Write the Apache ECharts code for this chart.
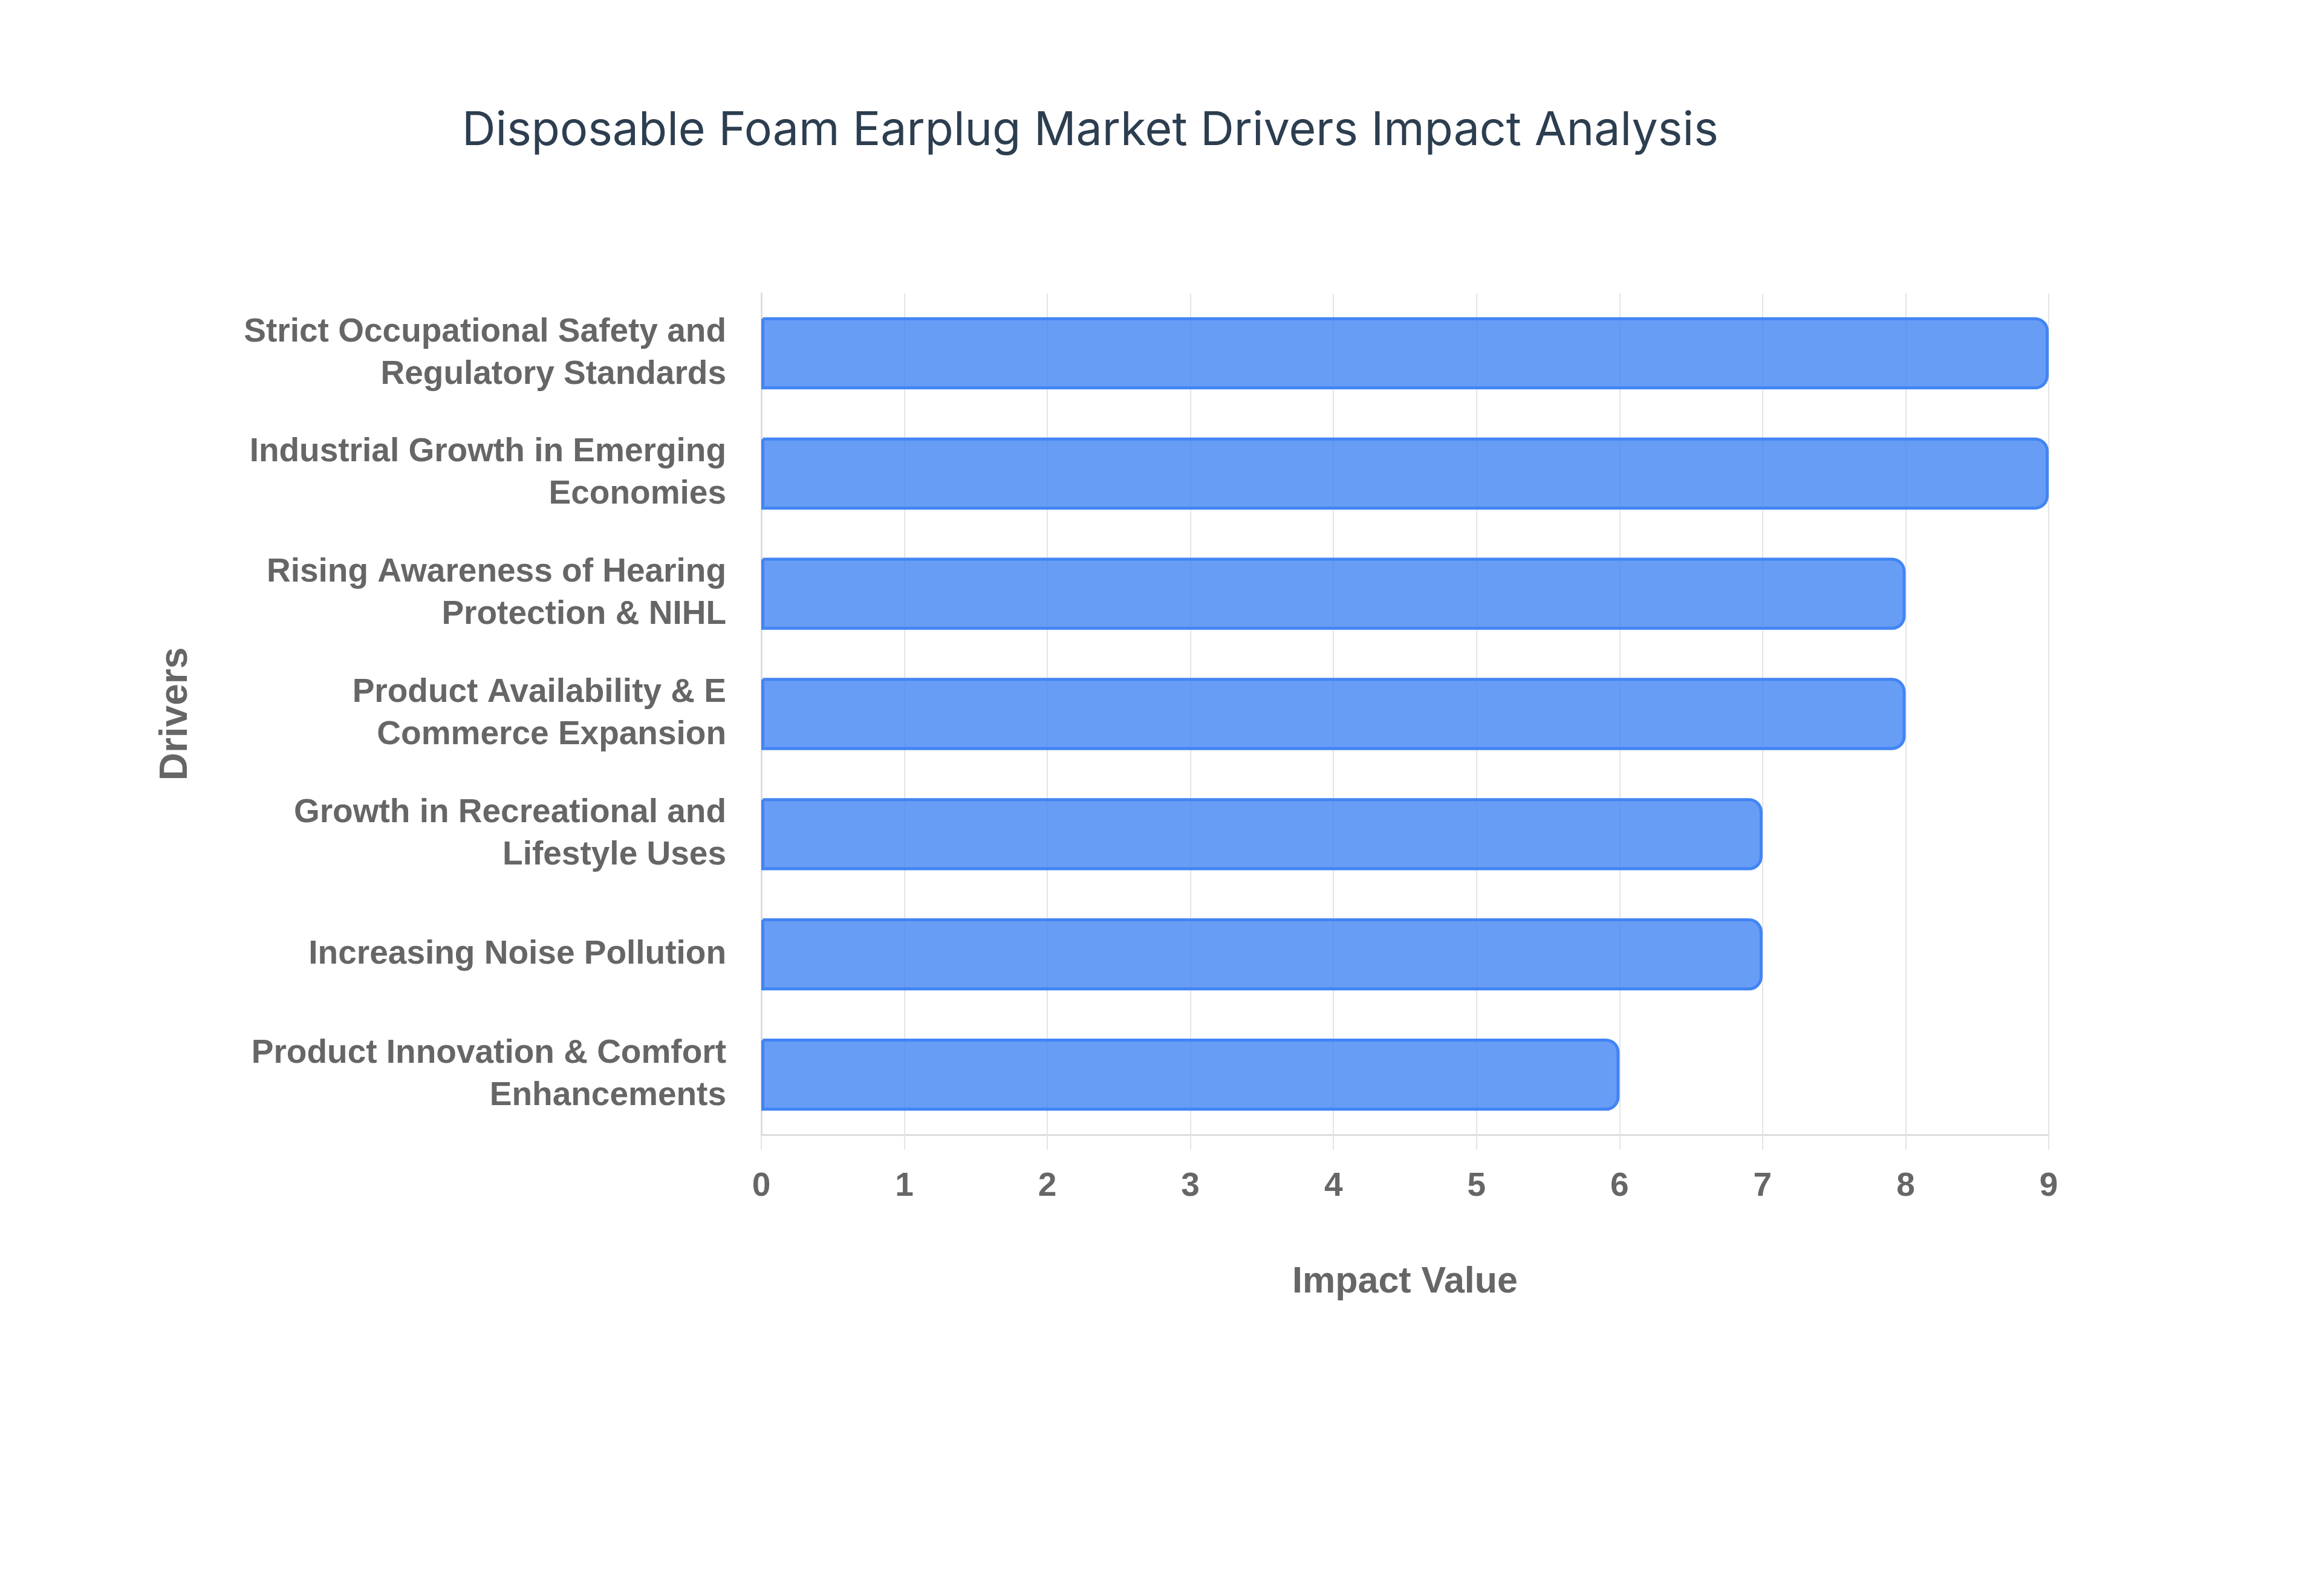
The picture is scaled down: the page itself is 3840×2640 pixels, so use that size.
<!DOCTYPE html>
<html>
<head>
<meta charset="utf-8">
<script src="https://cdn.jsdelivr.net/npm/echarts@6/dist/echarts.min.js"></script>
<style>
html,body{margin:0;padding:0;background:#fff;}
#chart{width:3840px;height:2640px;}
</style>
</head>
<body>
<div id="chart"></div>
<script>
const titleText = 'Disposable Foam Earplug Market Drivers Impact Analysis';
const categories = [
  'Strict Occupational Safety and\nRegulatory Standards',
  'Industrial Growth in Emerging\nEconomies',
  'Rising Awareness of Hearing\nProtection & NIHL',
  'Product Availability & E\nCommerce Expansion',
  'Growth in Recreational and\nLifestyle Uses',
  'Increasing Noise Pollution',
  'Product Innovation & Comfort\nEnhancements'
];
const impactValues = [9, 9, 8, 8, 7, 7, 6];
const xAxisName = 'Impact Value';
const yAxisName = 'Drivers';

const chart = echarts.init(document.getElementById('chart'), null, {renderer: 'canvas'});
const labelFont = '"Liberation Sans", Arial, sans-serif';
chart.setOption({
  backgroundColor: '#ffffff',
  animation: false,
  title: {
    text: titleText,
    left: 764,
    top: 178,
    padding: 0,
    textStyle: {
      fontFamily: 'Inter, "Open Sans", sans-serif',
      fontSize: 77,
      fontWeight: 'normal',
      color: '#2c3e50'
    }
  },
  grid: {
    left: 1259,
    right: 452,
    top: 485,
    bottom: 763,
    containLabel: false
  },
  xAxis: {
    type: 'value',
    min: 0,
    max: 9,
    interval: 1,
    name: xAxisName,
    nameLocation: 'middle',
    nameGap: 214,
    nameTextStyle: {
      fontFamily: labelFont,
      fontSize: 61,
      fontWeight: 'bold',
      color: '#666666'
    },
    axisLine: {show: true, lineStyle: {color: '#dddddd', width: 3}},
    axisTick: {show: true, length: 25, lineStyle: {color: '#e5e5e5', width: 2}},
    axisLabel: {
      margin: 58,
      fontFamily: labelFont,
      fontSize: 55,
      fontWeight: 'bold',
      color: '#666666'
    },
    splitLine: {show: true, lineStyle: {color: '#e5e5e5', width: 2}}
  },
  yAxis: {
    type: 'category',
    data: categories,
    inverse: true,
    name: yAxisName,
    nameLocation: 'middle',
    nameRotate: 90,
    nameGap: 936,
    nameTextStyle: {
      fontFamily: labelFont,
      fontSize: 64,
      fontWeight: 'bold',
      color: '#666666'
    },
    axisLine: {show: true, lineStyle: {color: '#dddddd', width: 3}},
    axisTick: {show: false},
    axisLabel: {
      margin: 58,
      fontFamily: labelFont,
      fontSize: 55,
      fontWeight: 'bold',
      color: '#666666',
      lineHeight: 70,
      align: 'right'
    },
    splitLine: {show: false}
  },
  series: [{
    type: 'bar',
    data: impactValues,
    barCategoryGap: '40%',
    itemStyle: {
      color: 'rgba(66,133,244,0.8)',
      borderColor: '#4285f4',
      borderWidth: 5,
      borderRadius: [0, 20, 20, 0]
    }
  }]
});
</script>
</body>
</html>
